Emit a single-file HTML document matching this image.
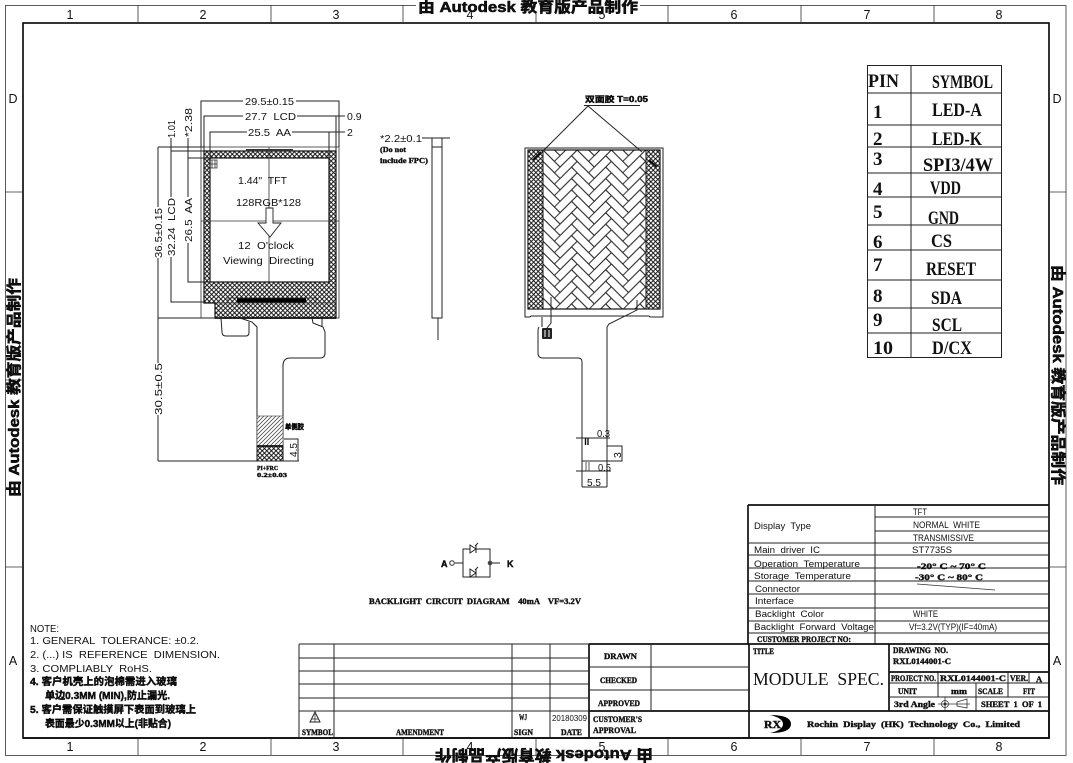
<!DOCTYPE html>
<html><head><meta charset="utf-8"><style>
html,body{margin:0;padding:0;background:#fff}
svg{display:block}
text{fill:#111;white-space:pre}
.s{font-family:"Liberation Sans",sans-serif;font-size:10.5px}
.m{font-family:"Liberation Sans",sans-serif;font-size:9px}
.b{font-family:"Liberation Serif","Noto Serif CJK SC",serif;font-size:8.5px;font-weight:bold;stroke:#111;stroke-width:.4}
.p{font-family:"Liberation Serif",serif;font-size:19px;font-weight:bold}
.c{font-family:"Liberation Sans","Noto Sans CJK SC",sans-serif;font-weight:bold;font-size:10px;stroke:#000;stroke-width:.4}
.w{font-family:"Liberation Sans","Noto Sans CJK SC",sans-serif;font-weight:bold;font-size:15px;stroke:#000;stroke-width:.5}
.g{font-family:"Liberation Sans",sans-serif;font-size:12.5px;fill:#333}
.l{fill:none;stroke:#222;stroke-width:1}
.t{fill:none;stroke:#111;stroke-width:1.7}
.n{fill:none;stroke:#333;stroke-width:.8}
</style></head><body>
<svg width="1073" height="763" viewBox="0 0 1073 763" xmlns="http://www.w3.org/2000/svg">
<defs>
<pattern id="x" width="4.6" height="4.6" patternUnits="userSpaceOnUse"><rect width="4.6" height="4.6" fill="#fff"/><path d="M0 0L4.6 4.6M4.6 0L0 4.6" stroke="#111" stroke-width=".95"/></pattern>
<pattern id="d" width="4" height="4" patternUnits="userSpaceOnUse"><rect width="4" height="4" fill="#fff"/><path d="M-1 1L1 -1M0 4L4 0M3 5L5 3" stroke="#333" stroke-width=".7"/></pattern>
<path id="hb" fill="none" stroke="#222" stroke-width=".9" d="M0 0L17.1 17.1L11.4 22.8L-5.7 5.7ZM28.5 5.7L34.2 11.4L17.1 28.5L11.4 22.8Z"/>
<pattern id="h" x="543" y="150" width="34.2" height="11.4" patternUnits="userSpaceOnUse"><rect width="34.2" height="11.4" fill="#fff"/>
<use href="#hb"/><use href="#hb" y="-11.4"/><use href="#hb" y="-22.8"/><use href="#hb" x="34.2"/><use href="#hb" x="34.2" y="-11.4"/><use href="#hb" x="34.2" y="-22.8"/></pattern>
</defs>
<rect width="1073" height="763" fill="#fff"/>

<!-- frame -->
<rect x="5.5" y="5.5" width="1060.5" height="750" class="n" stroke-width="1"/>
<rect x="23" y="23" width="1026" height="715" class="t"/>
<path class="n" d="M138 5V23M271 5V23M403 5V23M536 5V23M668 5V23M801 5V23M934 5V23M138 738V755M271 738V755M403 738V755M536 738V755M668 738V755M801 738V755M934 738V755M5 192H23M5 380H23M5 567H23M1049 192H1066M1049 380H1066M1049 567H1066"/>
<g class="g" text-anchor="middle">
<text x="70" y="19">1</text><text x="203" y="19">2</text><text x="336" y="19">3</text><text x="470" y="19">4</text><text x="602" y="19">5</text><text x="734" y="19">6</text><text x="867" y="19">7</text><text x="999" y="19">8</text>
<text x="70" y="751">1</text><text x="203" y="751">2</text><text x="336" y="751">3</text><text x="470" y="751">4</text><text x="602" y="751">5</text><text x="734" y="751">6</text><text x="867" y="751">7</text><text x="999" y="751">8</text>
<text x="13" y="103">D</text><text x="1057" y="103">D</text><text x="13" y="665">A</text><text x="1057" y="665">A</text>
</g>

<!-- watermarks -->
<rect x="416" y="0" width="224" height="12" fill="#fff"/>
<text class="w" x="418" y="12" textLength="220" lengthAdjust="spacingAndGlyphs">由 Autodesk 教育版产品制作</text>
<text class="w" transform="translate(653,750) rotate(180)" textLength="218" lengthAdjust="spacingAndGlyphs">由 Autodesk 教育版产品制作</text>
<text class="w" transform="translate(19,497) rotate(-90)" textLength="219" lengthAdjust="spacingAndGlyphs">由 Autodesk 教育版产品制作</text>
<text class="w" transform="translate(1053,265) rotate(90)" textLength="220" lengthAdjust="spacingAndGlyphs">由 Autodesk 教育版产品制作</text>

<!-- front view -->
<rect x="201" y="147" width="138" height="171" class="n"/>
<path d="M204 151H336V318H215V303H204Z" fill="url(#x)" stroke="#111" stroke-width="1.2"/>
<rect x="210" y="158" width="119" height="124" fill="#fff" stroke="#111" stroke-width="1.2"/>
<rect x="246" y="149" width="47" height="2.5" fill="#333"/>
<rect x="237" y="298" width="69" height="4.5" fill="#000"/>
<path class="n" d="M228 298H316V303M215 303H336M228 298V303"/>
<path class="t" d="M215 318H336" stroke-width="1.4"/>
<path class="n" d="M269 147V282M201 221H339M207 160H217V168H207M210 164H217M212 160V168M215 160V168"/>
<path d="M266 208H273V223H281L270 237L258 223H266Z" fill="#fff" stroke="#222" stroke-width=".9"/>
<text class="s" x="238" y="184" textLength="49" lengthAdjust="spacingAndGlyphs">1.44"  TFT</text>
<text class="s" x="236" y="206" textLength="65" lengthAdjust="spacingAndGlyphs">128RGB*128</text>
<text class="s" x="238" y="249" textLength="56" lengthAdjust="spacingAndGlyphs">12  O'clock</text>
<text class="s" x="223" y="264" textLength="91" lengthAdjust="spacingAndGlyphs">Viewing  Directing</text>

<!-- dimensions front -->
<path class="l" d="M201 147V101H243M296 101H339V147M204 151V116H243M297 116H336V151M210 158V132H247M292 132H329V158M330 116H345M324 132H345"/>
<text class="s" x="245" y="105" textLength="49" lengthAdjust="spacingAndGlyphs">29.5±0.15</text>
<text class="s" x="245" y="120" textLength="51" lengthAdjust="spacingAndGlyphs">27.7  LCD</text>
<text class="s" x="248" y="136" textLength="43" lengthAdjust="spacingAndGlyphs">25.5  AA</text>
<text class="s" x="347" y="120">0.9</text>
<text class="s" x="347" y="136">2</text>
<path class="l" d="M158 147V207M158 258V461M158 318V363" stroke-width="1"/>
<rect x="152" y="363" width="12" height="52" fill="#fff"/>
<path class="l" d="M158 147H204M158 318H223M171 151V197M171 257V302H204M171 138V151M171 151H204M188 158V197M188 243V282H210M188 138V158M188 158H210"/>
<text class="s" transform="translate(162,258) rotate(-90)" textLength="50" lengthAdjust="spacingAndGlyphs">36.5±0.15</text>
<text class="s" transform="translate(175,256) rotate(-90)" textLength="58" lengthAdjust="spacingAndGlyphs">32.24  LCD</text>
<text class="s" transform="translate(192,242) rotate(-90)" textLength="44" lengthAdjust="spacingAndGlyphs">26.5  AA</text>
<text class="s" transform="translate(175,138) rotate(-90)" textLength="18" lengthAdjust="spacingAndGlyphs">1.01</text>
<text class="s" transform="translate(192,137) rotate(-90)" textLength="29" lengthAdjust="spacingAndGlyphs">*2.38</text>
<text class="s" transform="translate(162,415) rotate(-90)" textLength="52" lengthAdjust="spacingAndGlyphs">30.5±0.5</text>

<!-- FPC front -->
<path class="l" d="M221 318L222 332Q222 336 226 336H246Q249 336 249 332V322M240 318L252 322L257 327V461M283 461V366Q283 358 290 358H320Q325 358 325 353V332L323 327L313 323L312 318M322 318V326"/>
<rect x="257" y="416" width="26" height="30" fill="url(#d)" stroke="#444" stroke-width=".6"/>
<rect x="257" y="446" width="26" height="15" fill="url(#x)" stroke="#111"/>
<path class="t" d="M257 446H283" stroke-width="1.4"/>
<path class="l" d="M158 461H299M284 439H298V461"/>
<text class="s" transform="translate(297,457) rotate(-90)" textLength="14" lengthAdjust="spacingAndGlyphs">4.5</text>
<text class="c" x="285" y="429" style="font-size:7px" textLength="19" lengthAdjust="spacingAndGlyphs">单侧胶</text>
<text class="b" x="257" y="470" style="font-size:6.5px" textLength="21" lengthAdjust="spacingAndGlyphs">PI+FRC</text>
<text class="b" x="257" y="477" style="font-size:6.5px" textLength="30" lengthAdjust="spacingAndGlyphs">0.2±0.03</text>

<!-- side view -->
<path class="l" d="M422 138H450M432 138V318H442V138M432 147H442M438 318V340"/>
<text class="s" x="380" y="142" textLength="42" lengthAdjust="spacingAndGlyphs">*2.2±0.1</text>
<text class="b" x="380" y="152" style="font-size:7.5px" textLength="26" lengthAdjust="spacingAndGlyphs">(Do not</text>
<text class="b" x="380" y="163" style="font-size:7.5px" textLength="48" lengthAdjust="spacingAndGlyphs">include FPC)</text>

<!-- back view -->
<path class="l" d="M525 148H663V317H650L649 316H531L530 317H525Z"/>
<rect x="528" y="150" width="132" height="159" fill="url(#h)" stroke="#111" stroke-width="1.2"/>
<rect x="528" y="150" width="15" height="159" fill="url(#x)" stroke="#111" stroke-width="1"/>
<rect x="646" y="150" width="14" height="159" fill="url(#x)" stroke="#111" stroke-width="1"/>
<path class="l" d="M584 105.500H640M588 106L542 152M588 106L642 152"/>
<path stroke="#111" stroke-width="2" d="M533 160L541 152M649 160L657 167"/>
<text class="c" x="585" y="102" style="font-size:8px" textLength="63" lengthAdjust="spacingAndGlyphs">双面胶 T=0.05</text>
<path class="l" d="M542 317V327M551 297V317M551 317V323L547 328M637 300V310L609 324L607 327V487M539 327Q538 328 538 332V353Q538 358 543 358H578Q582 358 582 362V487"/>
<rect x="542" y="328" width="10" height="11" fill="#222" rx="1"/>
<path stroke="#fff" d="M545 330V337M549 330V337"/>
<!-- back dims -->
<path class="l" d="M576 438H610M607 446H622V461H582M576 471H611M582 487H607"/>
<path stroke="#111" stroke-width="1.4" d="M585.500 438V445M588 438V445"/>
<path class="n" d="M586 462V471M589 462V471"/>
<text class="s" x="597" y="437" textLength="13" lengthAdjust="spacingAndGlyphs">0.3</text>
<text class="s" x="598" y="471" textLength="13" lengthAdjust="spacingAndGlyphs">0.5</text>
<text class="s" x="587" y="486" textLength="14" lengthAdjust="spacingAndGlyphs">5.5</text>
<text class="s" transform="translate(621,458) rotate(-90)">3</text>

<!-- circuit -->
<path class="l" d="M455 563H463M463 549H490V577H463ZM490 563H500"/>
<circle cx="452" cy="563" r="2.3" fill="#fff" stroke="#333"/>
<circle cx="490" cy="563" r="2.3" fill="#444"/>
<path d="M470 545V553L476 549ZM476 545V553M470 569V577L476 573ZM476 569V577" fill="#fff" stroke="#222"/>
<path d="M475 546L478 543M475 570L478 567" stroke="#222"/>
<text class="c" x="441" y="567" style="font-size:9px">A</text>
<text class="c" x="507" y="567" style="font-size:9px">K</text>
<text class="b" x="369" y="604" textLength="212" lengthAdjust="spacingAndGlyphs">BACKLIGHT  CIRCUIT  DIAGRAM    40mA    VF=3.2V</text>

<!-- pin table -->
<rect x="867.500" y="65.500" width="134" height="292" class="l"/>
<path class="l" d="M911 65V357M867 93H1001M867 125H1001M867 147H1001M867 173H1001M867 197H1001M867 225H1001M867 250H1001M867 280H1001M867 308H1001M867 333H1001"/>
<g class="p">
<text x="868" y="87" textLength="31" lengthAdjust="spacingAndGlyphs">PIN</text>
<text x="932" y="88" textLength="61" lengthAdjust="spacingAndGlyphs">SYMBOL</text>
<text x="873" y="118">1</text><text x="932" y="116" textLength="50" lengthAdjust="spacingAndGlyphs">LED-A</text>
<text x="873" y="145">2</text><text x="932" y="145" textLength="50" lengthAdjust="spacingAndGlyphs">LED-K</text>
<text x="873" y="165">3</text><text x="923" y="171" textLength="70" lengthAdjust="spacingAndGlyphs">SPI3/4W</text>
<text x="873" y="195">4</text><text x="930" y="194" textLength="31" lengthAdjust="spacingAndGlyphs">VDD</text>
<text x="873" y="218">5</text><text x="928" y="224" textLength="31" lengthAdjust="spacingAndGlyphs">GND</text>
<text x="873" y="248">6</text><text x="931" y="247" textLength="21" lengthAdjust="spacingAndGlyphs">CS</text>
<text x="873" y="271">7</text><text x="926" y="275" textLength="50" lengthAdjust="spacingAndGlyphs">RESET</text>
<text x="873" y="302">8</text><text x="931" y="304" textLength="31" lengthAdjust="spacingAndGlyphs">SDA</text>
<text x="873" y="326">9</text><text x="932" y="331" textLength="30" lengthAdjust="spacingAndGlyphs">SCL</text>
<text x="873" y="354" textLength="20" lengthAdjust="spacingAndGlyphs">10</text><text x="932" y="354" textLength="40" lengthAdjust="spacingAndGlyphs">D/CX</text>
</g>

<!-- spec table -->
<path class="t" d="M748 505H1049M748 505V644"/>
<path class="l" d="M875 505V644M875 517H1049M875 531H1049M748 543H1049M748 555H1049M748 568H1049M748 581H1049M748 594H1049M748 608H1049M748 621H1049M748 633H1049"/>
<path class="n" d="M917 584L995 590"/>
<g class="m">
<text x="754" y="529" textLength="57" lengthAdjust="spacingAndGlyphs">Display  Type</text>
<text x="754" y="553" textLength="66" lengthAdjust="spacingAndGlyphs">Main  driver  IC</text>
<text x="754" y="567" textLength="106" lengthAdjust="spacingAndGlyphs">Operation  Temperature</text>
<text x="754" y="579" textLength="97" lengthAdjust="spacingAndGlyphs">Storage  Temperature</text>
<text x="755" y="592" textLength="45" lengthAdjust="spacingAndGlyphs">Connector</text>
<text x="755" y="604" textLength="39" lengthAdjust="spacingAndGlyphs">Interface</text>
<text x="755" y="617" textLength="69" lengthAdjust="spacingAndGlyphs">Backlight  Color</text>
<text x="754" y="630" textLength="120" lengthAdjust="spacingAndGlyphs">Backlight  Forward  Voltage</text>
<text x="913" y="515" textLength="14" lengthAdjust="spacingAndGlyphs">TFT</text>
<text x="913" y="528" textLength="67" lengthAdjust="spacingAndGlyphs">NORMAL  WHITE</text>
<text x="913" y="541" textLength="61" lengthAdjust="spacingAndGlyphs">TRANSMISSIVE</text>
<text x="912" y="553" textLength="40" lengthAdjust="spacingAndGlyphs">ST7735S</text>
<text x="913" y="617" textLength="25" lengthAdjust="spacingAndGlyphs">WHITE</text>
<text x="909" y="630" textLength="88" lengthAdjust="spacingAndGlyphs">Vf=3.2V(TYP)(IF=40mA)</text>
</g>
<text class="b" x="917" y="569" textLength="69" lengthAdjust="spacingAndGlyphs">-20° C ~ 70° C</text>
<text class="b" x="915" y="580" textLength="68" lengthAdjust="spacingAndGlyphs">-30° C ~ 80° C</text>
<text class="b" x="757" y="642" textLength="94" lengthAdjust="spacingAndGlyphs">CUSTOMER PROJECT NO:</text>

<!-- title block -->
<path class="t" d="M589 644H1049V738H23M749 644V738M889 644V711M749 711H1049M889 672H1049M589 644V738M589 711H749"/>
<path class="l" d="M889 683H1049M889 697H1049M938 672V697M1008 672V697M1029 672V683M976 683V711M589 667H749M589 690H749M651 644V711"/>
<text class="b" x="753" y="654" textLength="21" lengthAdjust="spacingAndGlyphs">TITLE</text>
<text x="753" y="685" style="font-family:'Liberation Serif',serif;font-size:18px" textLength="131" lengthAdjust="spacingAndGlyphs">MODULE  SPEC.</text>
<g class="b">
<text x="893" y="653" textLength="55" lengthAdjust="spacingAndGlyphs">DRAWING  NO.</text>
<text x="893" y="664" textLength="58" lengthAdjust="spacingAndGlyphs">RXL0144001-C</text>
<text x="891" y="681" textLength="45" lengthAdjust="spacingAndGlyphs">PROJECT NO.</text>
<text x="940" y="681" textLength="66" lengthAdjust="spacingAndGlyphs">RXL0144001-C</text>
<text x="1010" y="681" textLength="18" lengthAdjust="spacingAndGlyphs">VER.</text>
<text x="1036" y="682">A</text>
<text x="898" y="694" textLength="19" lengthAdjust="spacingAndGlyphs">UNIT</text>
<text x="951" y="694" textLength="16" lengthAdjust="spacingAndGlyphs">mm</text>
<text x="978" y="694" textLength="25" lengthAdjust="spacingAndGlyphs">SCALE</text>
<text x="1023" y="694" textLength="12" lengthAdjust="spacingAndGlyphs">FIT</text>
<text x="894" y="707" textLength="41" lengthAdjust="spacingAndGlyphs">3rd Angle</text>
<text x="981" y="707" textLength="61" lengthAdjust="spacingAndGlyphs">SHEET  1  OF  1</text>
<text x="604" y="659" textLength="33" lengthAdjust="spacingAndGlyphs">DRAWN</text>
<text x="600" y="683" textLength="37" lengthAdjust="spacingAndGlyphs">CHECKED</text>
<text x="598" y="706" textLength="42" lengthAdjust="spacingAndGlyphs">APPROVED</text>
<text x="593" y="722" textLength="49" lengthAdjust="spacingAndGlyphs">CUSTOMER'S</text>
<text x="593" y="733" textLength="43" lengthAdjust="spacingAndGlyphs">APPROVAL</text>
<text x="807" y="727" textLength="213" lengthAdjust="spacingAndGlyphs">Rochin  Display  (HK)  Technology  Co.,  Limited</text>
</g>
<circle cx="945" cy="704" r="3.5" class="n"/><circle cx="945" cy="704" r="1.5" fill="#222"/>
<path class="n" d="M938 704H970M945 697V711M957 702L967 699V708L957 706Z"/>
<path d="M770 715Q791 715 791 724Q791 733 770 733Q783 730 783 724Q783 718 770 715Z" fill="#000"/>
<text class="b" x="764" y="728" style="font-size:10px" textLength="17" lengthAdjust="spacingAndGlyphs">RX</text>

<!-- amendment table -->
<path class="l" d="M299 644H589M299 658H589M299 671H589M299 684H589M299 698H589M299 711H589M299 644V737M334 644V737M512 644V737M550 644V737"/>
<path d="M315 712L320 722H310Z" fill="#fff" stroke="#222"/><path d="M312 719H318M315 714V722" stroke="#222" stroke-width=".7"/>
<g class="b">
<text x="302" y="735" textLength="31" lengthAdjust="spacingAndGlyphs">SYMBOL</text>
<text x="396" y="735" textLength="48" lengthAdjust="spacingAndGlyphs">AMENDMENT</text>
<text x="514" y="735" textLength="19" lengthAdjust="spacingAndGlyphs">SIGN</text>
<text x="561" y="735" textLength="21" lengthAdjust="spacingAndGlyphs">DATE</text>
<text x="519" y="720" textLength="8" lengthAdjust="spacingAndGlyphs">WJ</text>
</g>
<text class="m" x="552" y="721" style="font-size:8px" textLength="35" lengthAdjust="spacingAndGlyphs">20180309</text>

<!-- notes -->
<g class="s">
<text x="30" y="632" textLength="29" lengthAdjust="spacingAndGlyphs">NOTE:</text>
<text x="30" y="644" textLength="169" lengthAdjust="spacingAndGlyphs">1. GENERAL  TOLERANCE: ±0.2.</text>
<text x="30" y="658" textLength="190" lengthAdjust="spacingAndGlyphs">2. (...) IS  REFERENCE  DIMENSION.</text>
<text x="30" y="672" textLength="122" lengthAdjust="spacingAndGlyphs">3. COMPLIABLY  RoHS.</text>
</g>
<text class="c" x="30" y="685" textLength="147" lengthAdjust="spacingAndGlyphs">4. 客户机壳上的泡棉需进入玻璃</text>
<text class="c" x="45" y="699" textLength="125" lengthAdjust="spacingAndGlyphs">单边0.3MM (MIN),防止漏光.</text>
<text class="c" x="30" y="713" textLength="166" lengthAdjust="spacingAndGlyphs">5. 客户需保证触摸屏下表面到玻璃上</text>
<text class="c" x="45" y="727" textLength="126" lengthAdjust="spacingAndGlyphs">表面最少0.3MM以上(非贴合)</text>
</svg>
</body></html>
